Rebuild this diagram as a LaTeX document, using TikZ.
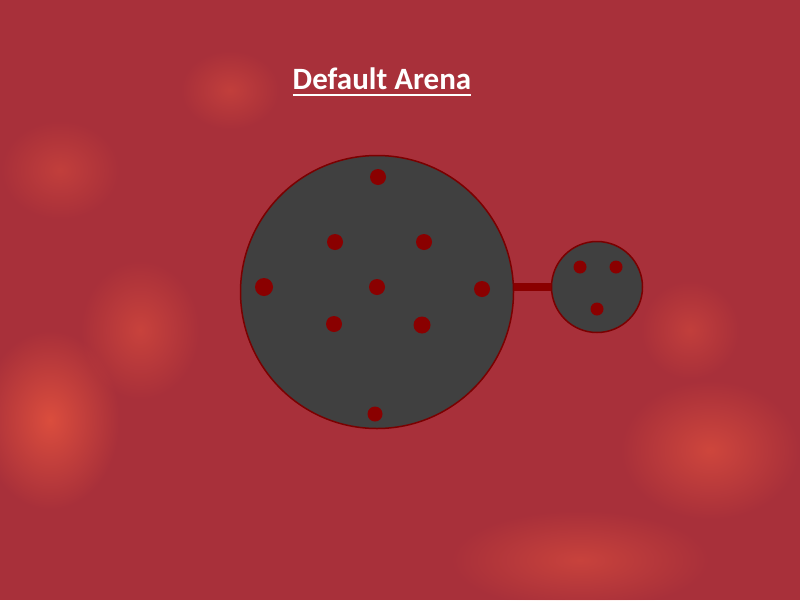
\documentclass[tikz,border=0pt]{standalone}
\usepackage{fontspec}
\setmainfont{Carlito}
\usepackage{tikz}
\usetikzlibrary{positioning}
\usetikzlibrary{fadings}

\definecolor{firebg}{HTML}{A8303A}
\definecolor{flame}{HTML}{E8553F}
\definecolor{arenagrey}{HTML}{404040}
\definecolor{rim}{HTML}{7A0000}
\definecolor{spotred}{HTML}{8A0000}

\tikzfading[name=flamefade, inner color=transparent!0, outer color=transparent!100]

\tikzset{
  arena/.style={circle, draw=rim, line width=1.5pt, fill=arenagrey, inner sep=0pt},
  spot/.style={circle, fill=spotred, inner sep=0pt},
  link/.style={draw=spotred, line width=8pt},
  glow/.style={fill=flame, path fading=flamefade}
}

\begin{document}
\begin{tikzpicture}[x=1pt,y=-1pt]
\useasboundingbox (0,0) rectangle (800,600);
\fill [firebg] (0,0) rectangle (800,600);
% soft flames
\fill [glow, opacity=0.8] (50,420) ellipse [x radius=70, y radius=90];
\fill [glow, opacity=0.6] (710,450) ellipse [x radius=90, y radius=70];
\fill [glow, opacity=0.5] (140,330) ellipse [x radius=60, y radius=70];
\fill [glow, opacity=0.5] (580,560) ellipse [x radius=130, y radius=50];
\fill [glow, opacity=0.4] (230,90) ellipse [x radius=50, y radius=40];
\fill [glow, opacity=0.4] (60,170) ellipse [x radius=60, y radius=50];
\fill [glow, opacity=0.4] (690,330) ellipse [x radius=50, y radius=50];

\node [text=white, font=\bfseries\fontsize{31}{31}\selectfont, inner sep=0pt, anchor=base] (title) at (382,89) {Default Arena};
\draw [white, line width=2.2pt] ([yshift=-6pt]title.base west) -- ([yshift=-6pt]title.base east);

\node [arena, minimum size=273pt] (main) at (377,292) {};
\node [arena, minimum size=91pt] (side) at (597,287) {};
\draw [link] (side.west) -- (side.west -| main.east);

\foreach \x/\y/\r [count=\i] in {378/177/8, 335/242/8, 424/242/8, 264/287/9, 377/287/8,
  482/289/8, 334/324/8, 422/325/8.5, 375/414/7.5}
  \node [spot, minimum size=2*\r pt] (m\i) at (\x,\y) {};
\foreach \x/\y/\r [count=\i] in {580/267/6.5, 616/267/6.5, 597/309/6.5}
  \node [spot, minimum size=2*\r pt] (s\i) at (\x,\y) {};
\end{tikzpicture}
\end{document}
